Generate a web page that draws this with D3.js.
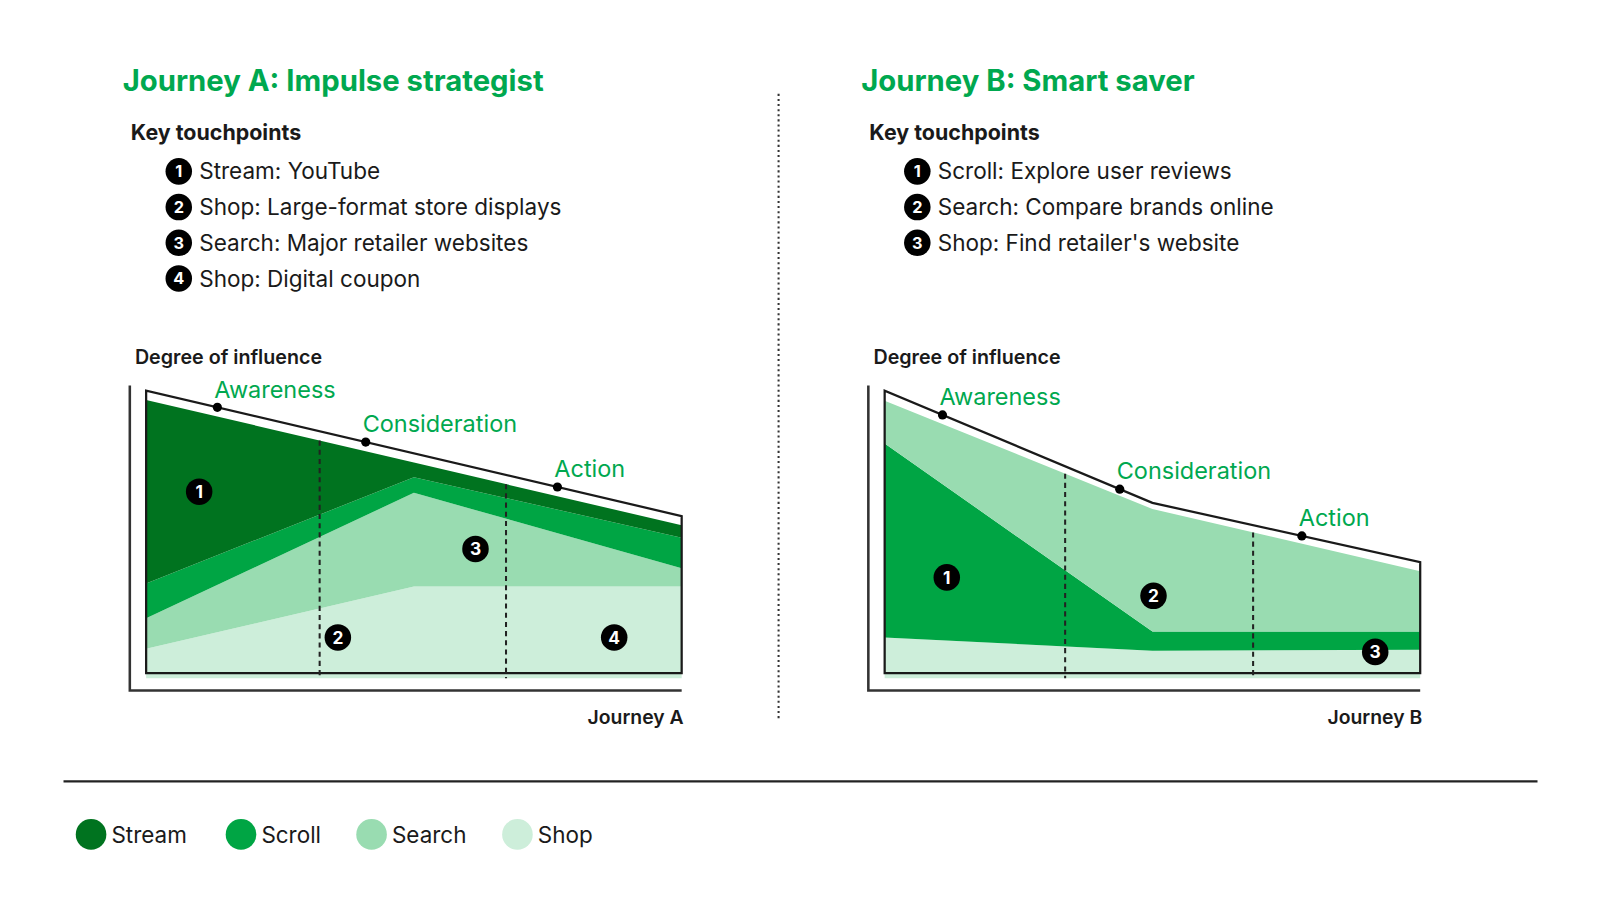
<!DOCTYPE html>
<html>
<head>
<meta charset="utf-8">
<script src="https://cdn.jsdelivr.net/npm/d3@7"></script>
<style>
  body { margin: 0; background: #fff; }
  svg { display: block; }
  text { font-family: Inter, Roboto, "Noto Sans", sans-serif; }
</style>
</head>
<body>
<svg id="chart" width="1600" height="915" viewBox="0 0 1568 897"></svg>
<script>
// ---- data ----
const seriesNames = ["Stream", "Scroll", "Search", "Shop"];
const seriesColors = ["#00731f", "#00a544", "#99dcb1", "#cdeeda"];
const stageNames = ["Awareness", "Consideration", "Action"];

// journey progress (0-100) and degree of influence (0-100), thickness of each layer
const journeyA_x = [0, 50, 100];
const journeyA_stream = [63.8, 5.1, 4.3];
const journeyA_scroll = [12.1, 5.4, 10.6];
const journeyA_search = [10.6, 32.6, 6.4];
const journeyA_shop = [10.3, 31.9, 31.9];
const journeyA_order = ["Shop", "Search", "Scroll", "Stream"];
const journeyA_totalX = [0, 100];
const journeyA_total = [100, 56.4];
const journeyA_stages = [13.3, 41, 76.8];
const journeyA_dividers = [32.4, 67.2];
const journeyA_badges = [[9.9, 64.9], [35.8, 14.2], [61.5, 45.0], [87.4, 14.2]];
const journeyA_touchpoints = ["Stream: YouTube", "Shop: Large-format store displays",
  "Search: Major retailer websites", "Shop: Digital coupon"];

const journeyB_x = [0, 50, 100];
const journeyB_stream = [0, 0, 0];
const journeyB_scroll = [67.4, 6.7, 6.4];
const journeyB_search = [14.9, 42.6, 20.9];
const journeyB_shop = [14.2, 9.6, 9.9];
const journeyB_order = ["Shop", "Scroll", "Search", "Stream"];
const journeyB_totalX = [0, 50, 100];
const journeyB_total = [100, 61.0, 40.4];
const journeyB_stages = [10.8, 43.9, 77.9];
const journeyB_dividers = [33.7, 68.8];
const journeyB_badges = [[11.6, 35.1], [50.2, 28.7], [91.6, 9.2]];
const journeyB_touchpoints = ["Scroll: Explore user reviews", "Search: Compare brands online",
  "Shop: Find retailer's website"];

const green = "#00a84f";
const ink = "#1a1a1a";
const svg = d3.select("#chart");

const journeys = [
  { title: "Journey A: Impulse strategist", axis: "Journey A", ox: 0, order: journeyA_order,
    x: journeyA_x, stream: journeyA_stream, scroll: journeyA_scroll, search: journeyA_search, shop: journeyA_shop,
    totalX: journeyA_totalX, total: journeyA_total, stages: journeyA_stages, dividers: journeyA_dividers,
    badges: journeyA_badges, touchpoints: journeyA_touchpoints },
  { title: "Journey B: Smart saver", axis: "Journey B", ox: 724, order: journeyB_order,
    x: journeyB_x, stream: journeyB_stream, scroll: journeyB_scroll, search: journeyB_search, shop: journeyB_shop,
    totalX: journeyB_totalX, total: journeyB_total, stages: journeyB_stages, dividers: journeyB_dividers,
    badges: journeyB_badges, touchpoints: journeyB_touchpoints }
];

function badge(g, cx, cy, r, label, fs) {
  g.append("circle").attr("cx", cx).attr("cy", cy).attr("r", r).attr("fill", "#000");
  g.append("text").attr("x", cx).attr("y", cy).attr("dy", "0.36em")
    .attr("text-anchor", "middle").attr("fill", "#fff")
    .attr("font-size", fs).attr("font-weight", 700).text(label);
}

journeys.forEach(j => {
  const g = svg.append("g").attr("transform", "translate(" + j.ox + ",0)");

  // header
  g.append("text").attr("x", 120).attr("y", 89).attr("fill", green)
    .attr("font-size", 28.7).attr("font-weight", 700).text(j.title);
  g.append("text").attr("x", 128).attr("y", 137).attr("fill", ink)
    .attr("font-size", 21).attr("font-weight", 700).text("Key touchpoints");
  j.touchpoints.forEach((t, i) => {
    const cy = 168 + i * 35;
    badge(g, 175, cy, 13, i + 1, 16);
    g.append("text").attr("x", 195).attr("y", cy).attr("dy", "0.36em").attr("fill", ink)
      .attr("font-size", 22.1).text(t);
  });

  // scales
  const x = d3.scaleLinear().domain([0, 100]).range([143, 668]);
  const y = d3.scaleLinear().domain([0, 100]).range([665, 383]);

  const rows = j.x.map((v, i) => ({ x: v, Stream: j.stream[i], Scroll: j.scroll[i], Search: j.search[i], Shop: j.shop[i] }));
  const layers = d3.stack().keys(j.order)(rows);

  const area = d3.area()
    .x(d => x(d.data.x))
    .y0(d => y(d[0]))
    .y1(d => y(d[1]));

  g.append("g").selectAll("path").data(layers).join("path")
    .attr("d", area)
    .attr("fill", d => seriesColors[seriesNames.indexOf(d.key)]);

  // total influence line + inner box
  const totalPts = j.totalX.map((v, i) => [v, j.total[i]]);
  const base = 1.8;
  const boxPts = [[0, base]].concat(totalPts).concat([[100, base]]);
  const line = d3.line().x(d => x(d[0])).y(d => y(d[1]));
  g.append("path").attr("d", line(boxPts) + "Z")
    .attr("fill", "none").attr("stroke", ink).attr("stroke-width", 2.2);

  const totalAt = d3.scaleLinear().domain(j.totalX).range(j.total);
  const stackTopAt = d3.scaleLinear().domain(j.x)
    .range(j.x.map((v, i) => j.stream[i] + j.scroll[i] + j.search[i] + j.shop[i]));

  // stage dividers
  g.append("g").selectAll("line").data(j.dividers).join("line")
    .attr("x1", d => x(d)).attr("x2", d => x(d))
    .attr("y1", d => y(stackTopAt(d))).attr("y2", y(0))
    .attr("stroke", "#222").attr("stroke-width", 2).attr("stroke-dasharray", "5,4");

  // stages
  j.stages.forEach((s, i) => {
    const cx = x(s), cy = y(totalAt(s));
    g.append("circle").attr("cx", cx).attr("cy", cy).attr("r", 4.5).attr("fill", "#000");
    g.append("text").attr("x", cx - 3).attr("y", cy - 9.5).attr("fill", green)
      .attr("font-size", 23).text(stageNames[i]);
  });

  // badges
  j.badges.forEach((b, i) => badge(g, x(b[0]), y(b[1]), 13, i + 1, 17));

  // outer axes
  g.append("path").attr("d", "M127,378V677H" + x(100))
    .attr("fill", "none").attr("stroke", "#333").attr("stroke-width", 2.5);
  g.append("text").attr("x", 132).attr("y", 357).attr("fill", ink)
    .attr("font-size", 19.3).attr("font-weight", 600).text("Degree of influence");
  g.append("text").attr("x", x(100) + 2).attr("y", 710).attr("text-anchor", "end").attr("fill", ink)
    .attr("font-size", 19).attr("font-weight", 600).text(j.axis);
});

// divider between journeys
svg.append("line").attr("x1", 763).attr("x2", 763).attr("y1", 92).attr("y2", 707)
  .attr("stroke", "#333").attr("stroke-width", 2).attr("stroke-dasharray", "2,3");

// bottom rule
svg.append("line").attr("x1", 62).attr("x2", 1507).attr("y1", 766).attr("y2", 766)
  .attr("stroke", "#222").attr("stroke-width", 2);

// legend
const legendX = [89, 236, 364, 507];
const legend = svg.append("g").selectAll("g").data(seriesNames).join("g")
  .attr("transform", (d, i) => "translate(" + legendX[i] + ",818)");
legend.append("circle").attr("r", 15).attr("fill", (d, i) => seriesColors[i]);
legend.append("text").attr("x", 20).attr("dy", "0.36em").attr("font-size", 22).attr("fill", ink).text(d => d);
</script>
</body>
</html>
